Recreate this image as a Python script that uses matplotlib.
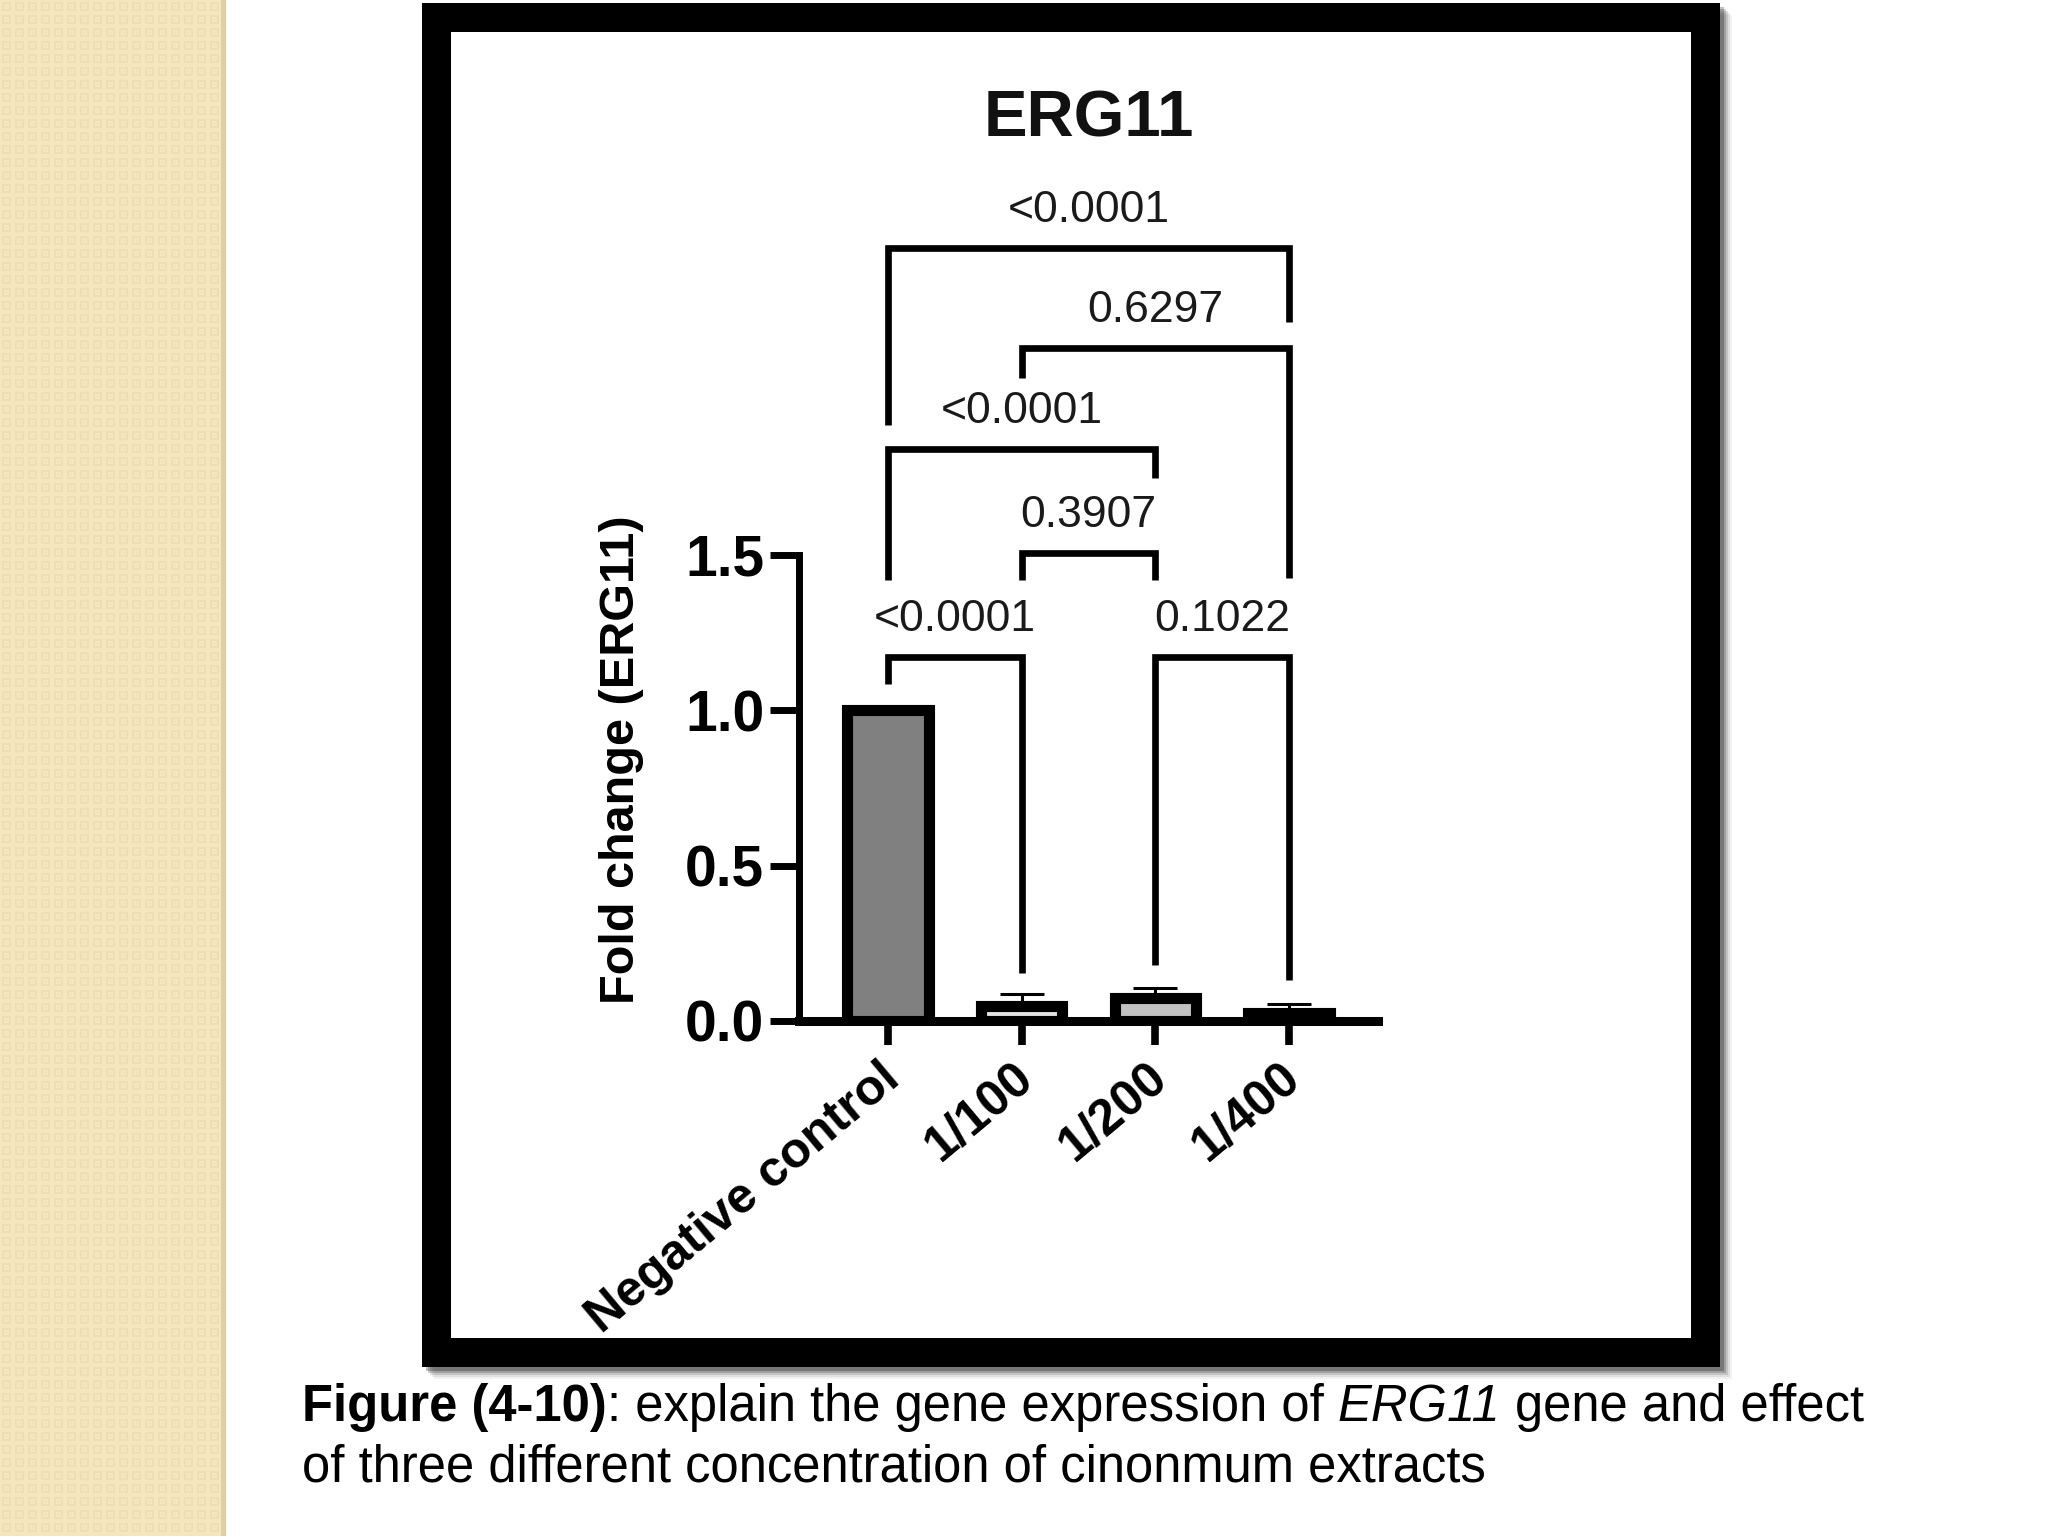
import numpy as np
import matplotlib
matplotlib.use("Agg")
import matplotlib.pyplot as plt
import matplotlib.transforms as mtransforms
from matplotlib.patches import Rectangle

plt.rcParams["font.family"] = ["Liberation Sans", "DejaVu Sans"]

# data
groups = ["Negative control", "1/100", "1/200", "1/400"]
fold_change = [1.0, 0.049, 0.074, 0.025]
err_up = [0.0, 0.037, 0.032, 0.029]
bar_colors = ["#808080", "#e4e4e4", "#c2c2c2", "#9a9a9a"]

# multiple comparison brackets
pairs = [(0, 1), (2, 3), (1, 2), (0, 2), (1, 3), (0, 3)]
p_labels = ["<0.0001", "0.1022", "0.3907", "<0.0001", "0.6297", "<0.0001"]
bracket_y = [1.17, 1.17, 1.505, 1.84, 2.164, 2.485]
leg_left = [1.084, 0.18, 1.418, 1.418, 2.068, 1.916]
leg_right = [0.154, 0.132, 1.418, 1.746, 1.424, 2.248]

W, H = 2048, 1536
fig = plt.figure(figsize=(20.48, 15.36), dpi=100)
fig.patch.set_facecolor("white")


def fx(px):
    return px / W


def fy(py):
    return 1 - py / H


# beige textured strip on the left
strip = fig.add_axes([0, 0, fx(226), 1])
tile = np.full((13, 13, 3), [244, 230, 190], dtype=float)
tile[2:11, 2:11] = [238, 222, 178]
tile[4:9, 4:9] = [244, 230, 190]
tile[6, 6] = [236, 219, 173]
tex = np.tile(tile, (int(H / 13) + 1, int(226 / 13) + 1, 1))[:H, :226] / 255
strip.imshow(tex, aspect="auto", interpolation="nearest")
strip.set_axis_off()
fig.patches.append(Rectangle((fx(221), 0), fx(5), 1, transform=fig.transFigure,
                             facecolor="#dfcfa2", edgecolor="none", zorder=3))

# frame with soft shadow
for k, a in enumerate([0.05, 0.08, 0.12, 0.18, 0.25]):
    off = 12 - 2 * k
    fig.patches.append(Rectangle((fx(422 + off), fy(1367 + off)), fx(1298), 1364 / H,
                                 transform=fig.transFigure, facecolor="black",
                                 edgecolor="none", alpha=a, zorder=0))
fig.patches.append(Rectangle((fx(422), fy(1367)), fx(1298), 1364 / H,
                             transform=fig.transFigure, facecolor="black",
                             edgecolor="none", zorder=1))
fig.patches.append(Rectangle((fx(451), fy(1338)), fx(1240), 1306 / H,
                             transform=fig.transFigure, facecolor="white",
                             edgecolor="none", zorder=1))

# chart
ax = fig.add_axes([fx(799), fy(1021), fx(579), 933 / H])
ax.set_zorder(5)
ax.patch.set_alpha(0)
x = np.arange(len(groups))
ax.bar(x, fold_change, width=0.61, color=bar_colors, edgecolor="black",
       linewidth=8, zorder=3)
ax.errorbar(x, fold_change, yerr=[np.zeros(len(x)), err_up], fmt="none",
            ecolor="black", elinewidth=2.2, capsize=16, capthick=2.2, zorder=2)

for (i, j), lab, yb, yl, yr in zip(pairs, p_labels, bracket_y, leg_left, leg_right):
    ax.plot([i, i, j, j], [yl, yb, yb, yr], color="black", lw=4.8,
            solid_joinstyle="miter", solid_capstyle="butt", zorder=4)
    ax.text((i + j) / 2, yb + 0.12, lab, ha="center", va="center",
            fontsize=32, color="#1a1a1a")

ax.text(1.5, 2.90, "ERG11", ha="center", va="center", fontsize=47,
        fontweight="bold", color="#111111")

ax.set_xlim(-0.667, 3.667)
ax.set_ylim(0, 3.0)
for s in ["top", "right"]:
    ax.spines[s].set_visible(False)
ax.spines["left"].set_bounds(0, 1.5)
ax.spines["left"].set_linewidth(5)
ax.spines["bottom"].set_linewidth(6.5)
ax.spines["left"].set_zorder(6)
ax.spines["bottom"].set_zorder(6)

ax.set_yticks([0, 0.5, 1.0, 1.5])
ax.set_yticklabels(["0.0", "0.5", "1.0", "1.5"])
ax.tick_params(axis="y", length=21, width=5, pad=4, labelsize=41)
ax.set_xticks(x)
ax.set_xticklabels(groups)
ax.tick_params(axis="x", length=17, width=5.5, pad=7, labelsize=36)
for t in ax.get_yticklabels():
    t.set_fontweight("bold")
shift = mtransforms.ScaledTranslation(-9 / 100, 0, fig.dpi_scale_trans)
for t in ax.get_xticklabels():
    t.set_fontweight("bold")
    t.set_rotation(40)
    t.set_rotation_mode("anchor")
    t.set_ha("right")
    t.set_va("top")
    t.set_transform(t.get_transform() + shift)

ax.text(-0.306, 0.28, "Fold change (ERG11)", transform=ax.transAxes,
        rotation=90, ha="center", va="center", fontsize=35, fontweight="bold")

# caption with mixed styles
renderer = fig.canvas.get_renderer()
probe1 = fig.text(0, 0, "x x", fontsize=37)
probe2 = fig.text(0, 0, "xx", fontsize=37)
space_px = probe1.get_window_extent(renderer).width - probe2.get_window_extent(renderer).width
probe1.remove()
probe2.remove()

parts = [("Figure (4-10)", dict(fontweight="bold")),
         (": explain the gene expression of", dict()),
         ("ERG11", dict(style="italic")),
         ("gene and effect", dict())]
cx = 302
for k, (s, kw) in enumerate(parts):
    if k >= 2:
        cx += space_px
    t = fig.text(fx(cx), fy(1421), s, fontsize=36.5, va="baseline", ha="left", **kw)
    cx = t.get_window_extent(renderer).x1
fig.text(fx(302), fy(1482), "of three different concentration of cinonmum extracts",
         fontsize=36.5, va="baseline", ha="left")

fig.savefig("out.png", dpi=100)
